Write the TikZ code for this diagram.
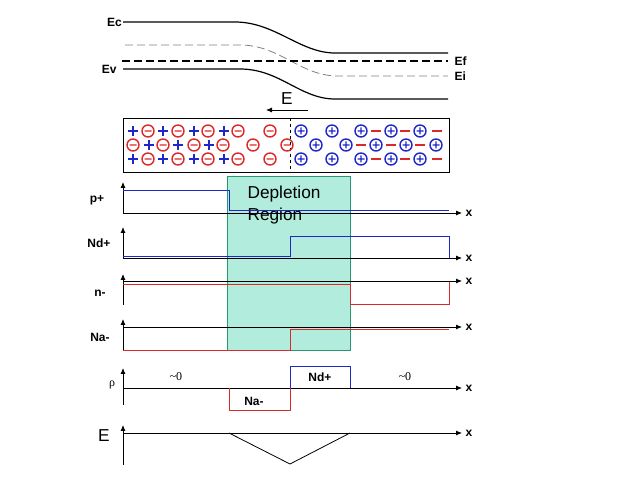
\documentclass[tikz,border=0pt]{standalone}
\usepackage{fontspec}
\setmainfont{Liberation Sans}
\setsansfont{Liberation Sans}
\newfontfamily\serifx{Liberation Serif}
\usetikzlibrary{arrows.meta,positioning,calc}
\definecolor{mygreen}{RGB}{40,150,110}
\definecolor{myfill}{RGB}{178,236,220}
\definecolor{myred}{RGB}{220,40,40}
\definecolor{myblueline}{RGB}{30,40,200}
\tikzset{
    axis/.style  = {-{Latex[length=6pt,width=5pt]}, thick},
    band/.style  = {very thick},
    lbl/.style   = {font=\sffamily\bfseries\large},
    blu/.style   = {draw=myblueline, thick},
    rd/.style    = {draw=myred, thick},
    ionNeg/.pic  = {\draw[myred, line width=1.4pt] (0,0) circle (6) (-3.5,0) -- (3.5,0);},
    ionPos/.pic  = {\draw[myblueline, line width=1.4pt] (0,0) circle (6) (-3.5,0) -- (3.5,0) (0,-3.5) -- (0,3.5);},
    carNeg/.pic  = {\draw[myred, line width=1.4pt] (-5,0) -- (5,0);},
    carPos/.pic  = {\draw[myblueline, line width=1.4pt] (-5,0) -- (5,0) (0,-5) -- (0,5);},
}
\begin{document}
\begin{tikzpicture}[x=1pt,y=-1pt]
    \useasboundingbox (0,0) rectangle (638,478);
    % band diagram
    \coordinate (ec1) at (123,22); \coordinate (ec2) at (448,53);
    \coordinate (ei1) at (125,45); \coordinate (ei2) at (448,76);
    \coordinate (ev1) at (123,69); \coordinate (ev2) at (448,99);
    \draw[band] (ec1) -- (235,22) .. controls (275,22) and (300,53) .. (335,53) -- (ec2);
    \draw[thick, gray, dashed, dash pattern=on 8pt off 4pt] (ei1) -- (240,45) .. controls (280,45) and (300,76) .. (338,76) -- (ei2);
    \draw[band] (ev1) -- (240,69) .. controls (280,69) and (300,99) .. (335,99) -- (ev2);
    \coordinate (ef1) at (122,61); \coordinate (ef2) at (448,61);
    \draw[very thick, dashed, dash pattern=on 8pt off 4pt] (ef1) -- (ef2);
    \node[lbl, left, inner sep=1pt] (Ec) at (ec1) {Ec};
    \node[lbl, left] (Ev) at ($(ev1)+(-3,0)$) {Ev};
    \node[lbl, right] (Ef) at ($(ef2)+(3,0)$) {Ef};
    \node[lbl, right] (Ei) at ($(ei2)+(3,0)$) {Ei};
    \node[font=\sffamily\LARGE] (Efield) at (287,99) {E};
    \coordinate (ea) at (308,110); \coordinate (eb) at (266,110);
    \draw[axis] (ea) -- (eb);
    % charge box
    \node[draw, thick, minimum width=326pt, minimum height=54pt, inner sep=0pt] (box) at (286,145) {};
    \draw[thick, dashed] (290,118) -- (290,172);
    \foreach \y in {131,159} {
        \foreach \x in {133,163,194,224} \pic at (\x,\y) {carPos};
        \foreach \x in {148,178,208,238,270} \pic at (\x,\y) {ionNeg};
        \foreach \x in {301,332,361,391,420} \pic at (\x,\y) {ionPos};
        \foreach \x in {376,405,437} \pic at (\x,\y) {carNeg};
    }
    \foreach \x in {133,163,194,223,253,287} \pic at (\x,145) {ionNeg};
    \foreach \x in {149,178,209} \pic at (\x,145) {carPos};
    \foreach \x in {316,346,376,406,436} \pic at (\x,145) {ionPos};
    \foreach \x in {361,391,420} \pic at (\x,145) {carNeg};
    % depletion region
    \node[draw=mygreen, thick, fill=myfill, minimum width=123pt, minimum height=174pt, inner sep=0pt] (dep) at (288.5,263) {};
    \node[align=left, font=\sffamily\LARGE, anchor=north west] (deplbl) at (244,182) {Depletion\\Region};
    % p+
    \draw[axis] (123,213) -- (123,182);
    \draw[axis] (123,213) -- (462,213) node[lbl, right] {x};
    \draw[blu] (123,190) -- (229,190) -- (229,210) -- (449,210);
    \node[lbl] (pp) at (97,200) {p+};
    % Nd+
    \draw[axis] (123,258) -- (123,227);
    \draw[axis] (123,258) -- (462,258) node[lbl, right] {x};
    \draw[blu] (123,256) -- (290,256) -- (290,236) -- (449,236) -- (449,258);
    \node[lbl] (nd) at (99,243) {Nd+};
    % n-
    \draw[axis] (123,305) -- (123,274);
    \draw[axis] (123,281) -- (462,281) node[lbl, right] {x};
    \draw[rd] (123,284) -- (350,284) -- (350,304) -- (449,304) -- (449,282);
    \node[lbl] (nm) at (100,293) {n-};
    % Na-
    \draw[axis] (123,350) -- (123,319);
    \draw[axis] (123,327) -- (462,327) node[lbl, right] {x};
    \draw[rd] (123,350) -- (290,350) -- (290,329) -- (449,329);
    \node[lbl] (na) at (100,337) {Na-};
    % rho
    \draw[axis] (123,405) -- (123,368);
    \draw[axis] (123,388) -- (462,388) node[lbl, right] {x};
    \node[font=\serifx\large] (rho) at (112,385) {ρ};
    \node[font=\serifx\large] (z1) at (176,377) {\textasciitilde0};
    \node[font=\serifx\large] (z2) at (405,377) {\textasciitilde0};
    \draw[rd] (229,388) -- (229,410) -- (290,410) -- (290,388);
    \draw[blu] (290,388) -- (290,366) -- (350,366) -- (350,388);
    \node[lbl] (nal) at (254,401) {Na-};
    \node[lbl] (ndl) at (320,377) {Nd+};
    % E field
    \draw[axis] (123,465) -- (123,425);
    \draw[axis] (123,433) -- (462,433) node[lbl, right] {x};
    \draw[thick] (229,433) -- (290,464) -- (350,433);
    \node[font=\sffamily\LARGE] (El) at (104,436) {E};
\end{tikzpicture}
\end{document}
